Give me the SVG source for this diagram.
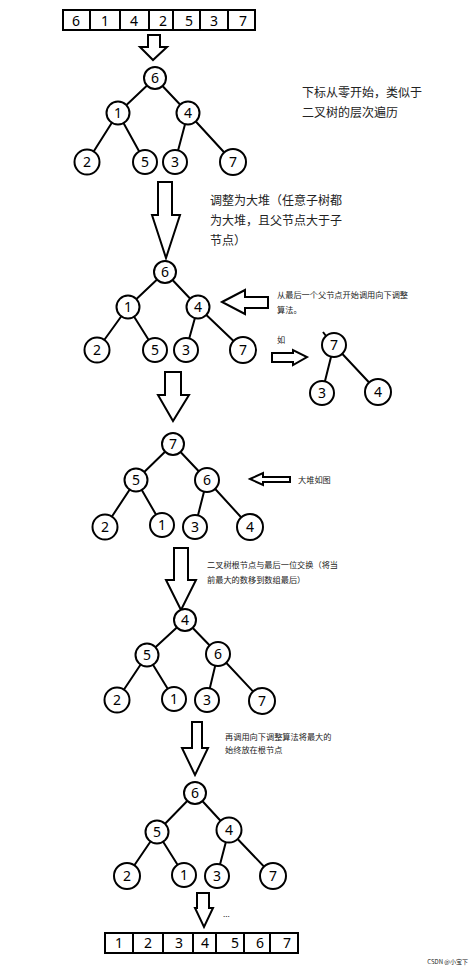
<svg xmlns="http://www.w3.org/2000/svg" width="474" height="970" viewBox="0 0 474 970">
<style>
  .bg { fill: #ffffff; }
  .cell { fill: #ffffff; stroke: #000; stroke-width: 2; }
  .num { font-family: "Noto Sans", "Liberation Sans", sans-serif; font-size: 14px; fill: #000; text-anchor: middle; }
  .node circle { fill: #ffffff; stroke: #000; stroke-width: 2; }
  .edge { stroke: #000; stroke-width: 2; fill: none; }
  .arrow { fill: #ffffff; stroke: #000; stroke-width: 2; stroke-linejoin: miter; }
  .note { font-family: "Noto Sans CJK SC", "Noto Sans", sans-serif; fill: #222; }
  .big { font-size: 12px; }
  .small { font-size: 8.2px; }
</style>
<rect class="bg" x="0" y="0" width="474" height="970"/>

<!-- top array -->
<g id="array-top">
  <rect class="cell" x="63" y="10" width="192" height="20"/>
  <path class="edge" d="M90 10V30M120 10V30M149 10V30M173 10V30M200 10V30M228 10V30"/>
  <text class="num" x="76" y="26">6</text>
  <text class="num" x="105" y="26">1</text>
  <text class="num" x="134" y="26">4</text>
  <text class="num" x="163" y="26">2</text>
  <text class="num" x="189" y="26">5</text>
  <text class="num" x="214" y="26">3</text>
  <text class="num" x="243" y="26">7</text>
</g>

<!-- block arrows -->
<g id="arrows">
  <polygon class="arrow" points="148,35 160,35 160,47 167,47 153,60 140,47 148,47"/>
  <polygon class="arrow" points="158,182 172,182 172,215 180,215 166,258 152,215 158,215"/>
  <polygon class="arrow" points="222,302 245,290 245,297 268,297 268,308 245,308 245,314"/>
  <polygon class="arrow" points="272,353 293,353 293,350 307,357 293,365 293,362 272,362"/>
  <polygon class="arrow" points="165,372 181,372 181,395 189,395 173,421 158,395 165,395"/>
  <polygon class="arrow" points="250,479 263,473 263,477 290,477 290,482 263,482 263,485"/>
  <polygon class="arrow" points="174,548 188,548 188,580 196,580 181,610 166,580 174,580"/>
  <polygon class="arrow" points="192,722 202,722 202,748 208,748 195,775 182,748 192,748"/>
  <polygon class="arrow" points="197,893 209,893 209,908 213,908 204,927 195,908 197,908"/>
</g>

<!-- connectors -->
<g id="connectors">
  <path class="edge" d="M155 78L118 113M155 78L188 113M118 113L87 162M118 113L145 162M188 113L175 162M188 113L233 162"/>
  <path class="edge" d="M165 272L128 307M165 272L198 307M128 307L97 350M128 307L155 350M198 307L186 350M198 307L243 350"/>
  <path class="edge" d="M334 345L322 393M334 345L378 392M323 332L326 336"/>
  <path class="edge" d="M173 444L136 480M173 444L207 480M136 480L105 527M136 480L162 525M207 480L195 527M207 480L250 527"/>
  <path class="edge" d="M185 620L147 655M185 620L218 654M147 655L117 700M147 655L174 699M218 654L207 700M218 654L262 701"/>
  <path class="edge" d="M195 793L157 832M195 793L229 830M157 832L127 876M157 832L184 875M229 830L217 876M229 830L273 876"/>
</g>

<!-- tree 1 -->
<g id="t1-n6" class="node"><circle cx="155" cy="78" r="11"/><text class="num" x="155" y="83">6</text></g>
<g id="t1-n1" class="node"><circle cx="118" cy="113" r="11.5"/><text class="num" x="118" y="118">1</text></g>
<g id="t1-n4" class="node"><circle cx="188" cy="113" r="11.5"/><text class="num" x="188" y="118">4</text></g>
<g id="t1-n2" class="node"><circle cx="87" cy="162" r="12.5"/><text class="num" x="87" y="167">2</text></g>
<g id="t1-n5" class="node"><circle cx="145" cy="162" r="12"/><text class="num" x="145" y="167">5</text></g>
<g id="t1-n3" class="node"><circle cx="175" cy="162" r="12"/><text class="num" x="175" y="167">3</text></g>
<g id="t1-n7" class="node"><circle cx="233" cy="162" r="13"/><text class="num" x="233" y="167">7</text></g>

<!-- tree 2 -->
<g id="t2-n6" class="node"><circle cx="165" cy="272" r="11"/><text class="num" x="165" y="277">6</text></g>
<g id="t2-n1" class="node"><circle cx="128" cy="307" r="11.5"/><text class="num" x="128" y="312">1</text></g>
<g id="t2-n4" class="node"><circle cx="198" cy="307" r="11.5"/><text class="num" x="198" y="312">4</text></g>
<g id="t2-n2" class="node"><circle cx="97" cy="350" r="12.5"/><text class="num" x="97" y="355">2</text></g>
<g id="t2-n5" class="node"><circle cx="155" cy="350" r="12"/><text class="num" x="155" y="355">5</text></g>
<g id="t2-n3" class="node"><circle cx="186" cy="350" r="12"/><text class="num" x="186" y="355">3</text></g>
<g id="t2-n7" class="node"><circle cx="243" cy="350" r="13"/><text class="num" x="243" y="355">7</text></g>

<!-- small example tree -->
<g id="ex-n7" class="node"><circle cx="334" cy="345" r="12"/><text class="num" x="334" y="350">7</text></g>
<g id="ex-n3" class="node"><circle cx="322" cy="393" r="12"/><text class="num" x="322" y="398">3</text></g>
<g id="ex-n4" class="node"><circle cx="378" cy="392" r="13"/><text class="num" x="378" y="397">4</text></g>

<!-- tree 3 -->
<g id="t3-n7" class="node"><circle cx="173" cy="444" r="11"/><text class="num" x="173" y="449">7</text></g>
<g id="t3-n5" class="node"><circle cx="136" cy="480" r="11.5"/><text class="num" x="136" y="485">5</text></g>
<g id="t3-n6" class="node"><circle cx="207" cy="480" r="12"/><text class="num" x="207" y="485">6</text></g>
<g id="t3-n2" class="node"><circle cx="105" cy="527" r="12.5"/><text class="num" x="105" y="532">2</text></g>
<g id="t3-n1" class="node"><circle cx="162" cy="525" r="12"/><text class="num" x="162" y="530">1</text></g>
<g id="t3-n3" class="node"><circle cx="195" cy="527" r="12"/><text class="num" x="195" y="532">3</text></g>
<g id="t3-n4" class="node"><circle cx="250" cy="527" r="13"/><text class="num" x="250" y="532">4</text></g>

<!-- tree 4 -->
<g id="t4-n4" class="node"><circle cx="185" cy="620" r="11"/><text class="num" x="185" y="625">4</text></g>
<g id="t4-n5" class="node"><circle cx="147" cy="655" r="11.5"/><text class="num" x="147" y="660">5</text></g>
<g id="t4-n6" class="node"><circle cx="218" cy="654" r="12"/><text class="num" x="218" y="659">6</text></g>
<g id="t4-n2" class="node"><circle cx="117" cy="700" r="12.5"/><text class="num" x="117" y="705">2</text></g>
<g id="t4-n1" class="node"><circle cx="174" cy="699" r="12"/><text class="num" x="174" y="704">1</text></g>
<g id="t4-n3" class="node"><circle cx="207" cy="700" r="12"/><text class="num" x="207" y="705">3</text></g>
<g id="t4-n7" class="node"><circle cx="262" cy="701" r="13"/><text class="num" x="262" y="706">7</text></g>

<!-- tree 5 -->
<g id="t5-n6" class="node"><circle cx="195" cy="793" r="11"/><text class="num" x="195" y="798">6</text></g>
<g id="t5-n5" class="node"><circle cx="157" cy="832" r="11.5"/><text class="num" x="157" y="837">5</text></g>
<g id="t5-n4" class="node"><circle cx="229" cy="830" r="12.5"/><text class="num" x="229" y="835">4</text></g>
<g id="t5-n2" class="node"><circle cx="127" cy="876" r="13"/><text class="num" x="127" y="881">2</text></g>
<g id="t5-n1" class="node"><circle cx="184" cy="875" r="12"/><text class="num" x="184" y="880">1</text></g>
<g id="t5-n3" class="node"><circle cx="217" cy="876" r="12"/><text class="num" x="217" y="881">3</text></g>
<g id="t5-n7" class="node"><circle cx="273" cy="876" r="13"/><text class="num" x="273" y="881">7</text></g>

<!-- bottom array -->
<g id="array-bottom">
  <rect class="cell" x="105" y="933" width="193" height="20"/>
  <path class="edge" d="M133 933V953M163 933V953M193 933V953M216 933V953M244 933V953M270 933V953"/>
  <text class="num" x="119" y="948">1</text>
  <text class="num" x="148" y="948">2</text>
  <text class="num" x="179" y="948">3</text>
  <text class="num" x="205" y="948">4</text>
  <text class="num" x="235" y="948">5</text>
  <text class="num" x="260" y="948">6</text>
  <text class="num" x="287" y="948">7</text>
</g>

<!-- notes -->
<g id="notes">
  <text class="note big" x="302" y="97">下标从零开始，类似于</text>
  <text class="note big" x="302" y="117">二叉树的层次遍历</text>
  <text class="note big" x="210" y="205">调整为大堆（任意子树都</text>
  <text class="note big" x="210" y="225">为大堆，且父节点大于子</text>
  <text class="note big" x="210" y="245">节点）</text>
  <text class="note small" x="277" y="298">从最后一个父节点开始调用向下调整</text>
  <text class="note small" x="277" y="313">算法。</text>
  <text class="note small" x="277" y="343">如</text>
  <text class="note small" x="298" y="483">大堆如图</text>
  <text class="note small" x="207" y="568">二叉树根节点与最后一位交换（将当</text>
  <text class="note small" x="207" y="583">前最大的数移到数组最后）</text>
  <text class="note small" x="225" y="740">再调用向下调整算法将最大的</text>
  <text class="note small" x="225" y="753">始终放在根节点</text>
  <text class="note small" x="223" y="917">...</text>
  <text class="note" x="468" y="964" font-size="6" fill="#bbb" text-anchor="end">CSDN @小宝下</text>
</g>
</svg>
